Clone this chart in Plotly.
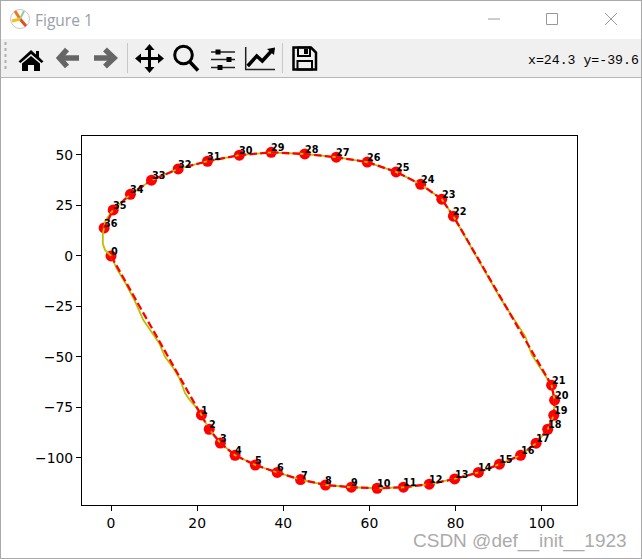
import plotly.graph_objects as go

# waypoints, numbered 0..36
point_x = [0, 21, 22.8, 25.4, 28.8, 33.5, 38.6, 44, 49.8, 55.8, 61.8, 67.9, 73.9, 79.8, 85.3, 90.2, 95.1, 98.7, 101.4,
           102.8, 103, 102.3, 79.5, 76.8, 71.9, 66.2, 59.5, 52.3, 45, 37.2, 29.8, 22.4, 15.6, 9.4, 4.5, 0.5, -1.6]
point_y = [0, -78.7, -85.8, -92.6, -98.7, -103.5, -107.2, -110.7, -113.4, -114.5, -115, -114.5, -113, -110.4, -107.2,
           -103.1, -98.7, -92.7, -85.8, -78.9, -71.4, -64, 19.7, 28.1, 35.5, 41.6, 46.5, 48.9, 50.5, 51.3, 49.9, 46.9,
           43.1, 37.5, 30.5, 22.8, 13.9]
point_labels = [str(i) for i in range(37)]

# smooth path, the yellow one
path_x = [0, 1.3, 3.6, 5.6, 7.5, 9.1, 11.2, 12.5, 14.5, 15.9, 17.2, 18.4, 20.3, 21, 22.8, 25.4, 28.8, 33.5, 38.6, 44,
          49.8, 55.8, 61.8, 67.9, 73.9, 79.8, 85.3, 90.2, 95.1, 98.7, 101.4, 102.8, 103, 102.3, 97.7, 96.2, 93.5, 90.4,
          84.2, 79.5, 76.8, 71.9, 66.2, 59.5, 52.3, 45, 37.2, 29.8, 22.4, 15.6, 9.4, 4.5, 0.5, -1.3, -1.9, -1.9, -1.4,
          -0.6, 0]
path_y = [0, -6.1, -14.4, -22.6, -31.7, -36.6, -43.2, -49.8, -55.6, -60.6, -68, -71.6, -76.2, -78.7, -85.8, -92.6,
          -98.7, -103.5, -107.2, -110.7, -113.4, -114.5, -115, -114.5, -113, -110.4, -107.2, -103.1, -98.7, -92.7,
          -85.8, -78.9, -71.4, -64, -49, -39.9, -30.8, -20.9, 2.1, 19.7, 28.1, 35.5, 41.6, 46.5, 48.9, 50.5, 51.3,
          49.9, 46.9, 43.1, 37.5, 30.5, 22.8, 17.5, 11, 6, 3, 1.3, 0]

x_ticks = [0, 20, 40, 60, 80, 100]
y_ticks = [-100, -75, -50, -25, 0, 25, 50]

# plot area in page pixels
L, R, T, B = 82, 577, 136, 505


def px(x):
    return (x - L) / (R - L)


def py(y):
    return (B - y) / (B - T)


def path(pts, closed=False):
    s = "M" + " L".join(f"{px(x):.5f},{py(y):.5f}" for x, y in pts)
    return s + " Z" if closed else s


def line_shape(pts, color, width, closed=False, fill=None, dash=None):
    shapes.append(dict(type="path", xref="paper", yref="paper", path=path(pts, closed), layer="below",
                       fillcolor=fill if fill else "rgba(0,0,0,0)", line=dict(color=color, width=width, dash=dash)))


def solid(pts, color="#000000"):
    line_shape(pts, color, 0, True, color)


def box(x0, y0, x1, y1, fill="rgba(0,0,0,0)", color="rgba(0,0,0,0)", width=0):
    shapes.append(dict(type="rect", xref="paper", yref="paper", x0=px(x0), x1=px(x1), y0=py(y0), y1=py(y1),
                       layer="below", fillcolor=fill, line=dict(color=color, width=width)))


def circle(cx, cy, r, fill="rgba(0,0,0,0)", color="#000000", width=1):
    shapes.append(dict(type="circle", xref="paper", yref="paper", x0=px(cx - r), x1=px(cx + r), y0=py(cy + r),
                       y1=py(cy - r), layer="below", fillcolor=fill, line=dict(color=color, width=width)))


def text(x, y, s, size, color, family, anchor="left"):
    annotations.append(dict(xref="paper", yref="paper", x=px(x), y=py(y), text=s, showarrow=False, xanchor=anchor,
                            yanchor="middle", font=dict(size=size, color=color, family=family)))


shapes = []
annotations = []

# window frame and toolbar
box(0, 39, 642, 77, fill="#f0f0f0")
line_shape([(0, 77.5), (642, 77.5)], "#b8b8b8", 1)
line_shape([(0, 0.5), (642, 0.5)], "#a8a8a8", 1)
line_shape([(0.5, 0), (0.5, 559)], "#a8a8a8", 1)
line_shape([(641.5, 0), (641.5, 559)], "#a8a8a8", 1)
line_shape([(0, 558.5), (642, 558.5)], "#a8a8a8", 1)
line_shape([(5.5, 42), (5.5, 72)], "#b0b0b0", 2, dash="dot")
line_shape([(127.5, 43), (127.5, 73)], "#c8c8c8", 1)
line_shape([(282.5, 43), (282.5, 73)], "#c8c8c8", 1)

# title bar
circle(20, 19, 9.5, fill="#ffffff", color="#c8c8c8", width=1)
line_shape([(20, 19), (15, 11)], "#f07820", 3)
line_shape([(20, 19), (26, 26)], "#e05020", 3)
line_shape([(20, 19), (12, 21)], "#f0c020", 3)
line_shape([(20, 19), (24, 11)], "#90d090", 2)
text(33, 20, "Figure 1", 15.5, "#9aa0a8", "Open Sans")
line_shape([(488, 19), (500, 19)], "#999999", 1)
box(546.5, 13.5, 557.5, 24.5, color="#999999", width=1)
line_shape([(605, 13), (617, 25)], "#999999", 1)
line_shape([(617, 13), (605, 25)], "#999999", 1)

# toolbar icons
solid([(31, 50), (36, 54.5), (36, 51), (39, 51), (39, 57), (43.5, 61.5), (41.5, 63), (31, 54), (20.5, 63), (18.5, 61.5)])
solid([(31, 56), (40, 63.5), (40, 71), (34, 71), (34, 65), (28, 65), (28, 71), (22, 71), (22, 63.5)])
line_shape([(67, 49.5), (59.5, 58), (67, 66.5)], "#666666", 5.5)
line_shape([(60, 58), (79, 58)], "#666666", 5.5)
line_shape([(105, 49.5), (114, 58), (105, 66.5)], "#666666", 5.5)
line_shape([(114, 58), (94, 58)], "#666666", 5.5)
line_shape([(149.5, 48), (149.5, 69)], "#000000", 3)
line_shape([(139, 58.5), (160, 58.5)], "#000000", 3)
solid([(149.5, 44), (154.5, 50), (144.5, 50)])
solid([(149.5, 73), (154.5, 67), (144.5, 67)])
solid([(135, 58.5), (141, 53.5), (141, 63.5)])
solid([(164, 58.5), (158, 53.5), (158, 63.5)])
circle(183.5, 55, 8.8, width=3)
line_shape([(190, 62), (198, 70.5)], "#000000", 3.5)
for y, kx in [(52, 218), (59.5, 229), (67.5, 220)]:
    line_shape([(211, y), (235, y)], "#222222", 1.5)
    box(kx - 2.5, y - 2.5, kx + 2.5, y + 2.5, fill="#000000")
line_shape([(245.7, 47), (245.7, 69.5), (275, 69.5)], "#222222", 1.5)
line_shape([(247.7, 66), (256.7, 56), (262.3, 61), (271, 51.5)], "#000000", 3.5)
solid([(267, 49), (275, 47.5), (274, 55)])
line_shape([(293.5, 47.5), (311, 47.5), (316, 52.5), (316, 69.5), (293.5, 69.5)], "#000000", 2.5, True)
box(298, 47.5, 310, 56, color="#000000", width=2)
box(304, 49, 308, 54, fill="#000000")
box(297.5, 61, 312, 69.5, color="#000000", width=2)
text(526, 60, "x=24.3 y=-39.6", 13.2, "#000000", "Liberation Mono")
text(629, 541, "CSDN @def__init__1923", 19, "#ababab", "Liberation Sans", anchor="right")

# point numbers sit just above and right of each point
for lx, ly, lab in zip(point_x, point_y, point_labels):
    annotations.append(dict(x=lx, y=ly, xref="x", yref="y", text=lab, showarrow=False, xanchor="left",
                            yanchor="bottom", xshift=-1, yshift=-2, borderpad=0,
                            font=dict(family="DejaVu Sans", size=9.7, color="#000000", weight="bold")))

fig = go.Figure()
# markers go under the two lines
fig.add_trace(go.Scatter(x=point_x, y=point_y, mode="markers", marker=dict(color="#ff0000", size=11)))
fig.add_trace(go.Scatter(x=path_x, y=path_y, mode="lines", line=dict(color="#bfbf00", width=1.8)))
fig.add_trace(go.Scatter(x=point_x, y=point_y, mode="lines", line=dict(color="#ff0000", width=2.3, dash="7.5px,3.3px")))

axis_style = dict(showgrid=False, zeroline=False, showline=True, mirror=True, linecolor="#000000", linewidth=1.1,
                  ticks="outside", ticklen=5, tickwidth=1.1, tickcolor="#000000",
                  tickfont=dict(family="DejaVu Sans", size=13.9, color="#000000"))
fig.update_xaxes(range=[-6.74, 108.2], tickvals=x_ticks, **axis_style)
fig.update_yaxes(range=[-123.3, 59.4], tickvals=y_ticks, **axis_style)
fig.update_layout(width=642, height=559, autosize=False, showlegend=False, plot_bgcolor="#ffffff",
                  paper_bgcolor="#ffffff", margin=dict(l=L, r=642 - R, t=T, b=559 - B, pad=0), shapes=shapes,
                  annotations=annotations)

fig.write_html("out.html", config=dict(displayModeBar=False),
               post_script="document.body.style.margin='0';document.documentElement.style.overflow='hidden';")
